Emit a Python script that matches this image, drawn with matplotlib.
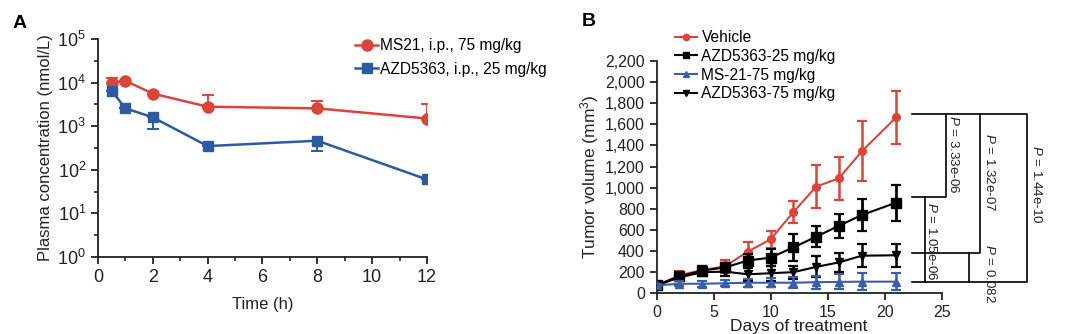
import matplotlib
matplotlib.use("Agg")
import matplotlib.pyplot as plt
import matplotlib.ticker as mticker
from matplotlib.lines import Line2D
import numpy as np

plt.rcParams["font.family"] = ["Liberation Sans", "DejaVu Sans"]
plt.rcParams["mathtext.fontset"] = "custom"
plt.rcParams["mathtext.rm"] = "Liberation Sans"
plt.rcParams["mathtext.it"] = "Liberation Sans:italic"

# =========================
# DATA - panel A (pharmacokinetics)
# =========================
pk_time = [0.5, 1, 2, 4, 8, 12]
ms21_conc = [10000, 11000, 5600, 2800, 2570, 1500]
ms21_err_up = [2600, 0, 0, 2400, 1200, 1670]
azd_conc = [6500, 2570, 1600, 350, 465, 60]
azd_err_down = [0, 0, 730, 0, 190, 0]
pk_labels = ["MS21, i.p., 75 mg/kg", "AZD5363, i.p., 25 mg/kg"]

# =========================
# DATA - panel B (tumor volume)
# =========================
days = [0, 2, 4, 6, 8, 10, 12, 14, 16, 18, 21]
vehicle = [75, 170, 220, 255, 395, 511, 770, 1010, 1090, 1345, 1665]
vehicle_err = [15, 40, 40, 60, 95, 83, 105, 205, 205, 285, 255]
azd25 = [75, 160, 215, 245, 310, 338, 435, 536, 640, 741, 858]
azd25_err = [15, 35, 40, 40, 60, 80, 125, 100, 115, 150, 170]
ms21_75 = [75, 90, 90, 95, 100, 100, 100, 105, 108, 110, 110]
ms21_75_err = [10, 25, 30, 30, 40, 45, 50, 60, 70, 80, 80]
azd75 = [75, 150, 200, 205, 180, 190, 200, 250, 293, 356, 360]
azd75_err = [15, 35, 40, 45, 60, 70, 60, 100, 90, 110, 110]
tv_labels = ["Vehicle", "AZD5363-25 mg/kg", "MS-21-75 mg/kg", "AZD5363-75 mg/kg"]

# significance brackets: (x, y) corner lists in data units
brackets = [
    [(22.4, 1700), (25.4, 1700), (25.4, 910), (22.4, 910)],
    [(25.4, 1700), (28.4, 1700), (28.4, 378), (22.4, 378)],
    [(28.4, 1700), (32.5, 1700), (32.5, 110), (22.4, 110)],
    [(23.5, 910), (23.5, 110)],
    [(27.4, 378), (27.4, 110)],
]
p_texts = ["3.33e-06", "1.32e-07", "1.44e-10", "1.05e-06", "0.082"]
p_pos = [(26.0, 1320), (29.2, 1148), (33.3, 1034), (24.1, 489), (29.2, 192)]

RED = "#d9453a"
BLUE_A = "#2d5aa0"
BLUE_B = "#3c5ea8"
INK = "#222222"


def style_axes(ax, size):
    for side in ["top", "right"]:
        ax.spines[side].set_visible(False)
    for side in ["left", "bottom"]:
        ax.spines[side].set_color(INK)
        ax.spines[side].set_linewidth(1.3)
    ax.tick_params(which="major", direction="out", length=5, width=1.3,
                   color=INK, labelcolor=INK, labelsize=size)
    ax.tick_params(which="minor", direction="out", length=3, width=1.2,
                   color=INK)


fig = plt.figure(figsize=(10.8, 3.34), dpi=100)

# =========================
# PANEL A
# =========================
axA = fig.add_axes([0.0907, 0.2305, 0.3047, 0.6527])
axA.errorbar(pk_time, ms21_conc, yerr=[np.zeros(len(pk_time)), ms21_err_up],
             color=RED, marker="o", ms=8, lw=1.8, capsize=4, elinewidth=1.4,
             capthick=1.4, zorder=3)
axA.errorbar(pk_time, azd_conc, yerr=[azd_err_down, np.zeros(len(pk_time))],
             color=BLUE_A, marker="s", ms=7.5, lw=1.8, capsize=4, elinewidth=1.4,
             capthick=1.4, zorder=3)
axA.set_yscale("log")
axA.set_ylim(1, 1e5)
axA.set_xlim(0, 12)
axA.yaxis.set_major_locator(mticker.FixedLocator([10.0 ** k for k in range(6)]))
axA.yaxis.set_minor_locator(mticker.FixedLocator([10.0 ** (k + 0.5) for k in range(5)]))
axA.yaxis.set_minor_formatter(mticker.NullFormatter())
axA.xaxis.set_major_locator(mticker.MultipleLocator(2))
axA.xaxis.set_minor_locator(mticker.MultipleLocator(1))
style_axes(axA, 13)
axA.set_xlabel("Time (h)", fontsize=12, color=INK, labelpad=8)
axA.set_ylabel("Plasma concentration (nmol/L)", fontsize=12, color=INK, labelpad=3)

handles_a = [
    Line2D([], [], color=RED, marker="o", ms=8, lw=1.8),
    Line2D([], [], color=BLUE_A, marker="s", ms=7.5, lw=1.8),
]
fig.legend(handles_a, pk_labels, loc="upper left",
           bbox_to_anchor=(0.3287, 0.886), bbox_transform=fig.transFigure,
           frameon=False, fontsize=11.2, handlelength=1.5, handletextpad=0.1,
           labelspacing=0.55, borderpad=0, borderaxespad=0)

# =========================
# PANEL B
# =========================
axB = fig.add_axes([0.608, 0.1219, 0.2639, 0.6955])
axB.errorbar(days, vehicle, yerr=vehicle_err, color=RED, marker="o", ms=5.5,
             lw=1.5, capsize=3.5, elinewidth=1.8, capthick=1.6, zorder=2)
axB.errorbar(days, azd25, yerr=azd25_err, color="black", marker="s", ms=7,
             lw=1.5, capsize=3.5, elinewidth=2.0, capthick=1.6, zorder=3)
axB.errorbar(days, ms21_75, yerr=ms21_75_err, color=BLUE_B, marker="^", ms=6,
             lw=1.5, capsize=3.5, elinewidth=1.8, capthick=1.6, zorder=4)
axB.errorbar(days, azd75, yerr=azd75_err, color="black", marker="v", ms=6,
             lw=1.5, capsize=3.5, elinewidth=1.8, capthick=1.6, zorder=3)
axB.set_xlim(0, 25)
axB.set_ylim(0, 2200)
axB.xaxis.set_major_locator(mticker.MultipleLocator(5))
axB.yaxis.set_major_locator(mticker.MultipleLocator(200))
axB.yaxis.set_major_formatter(mticker.FuncFormatter(lambda v, p: f"{int(v):,}"))
style_axes(axB, 11.5)
axB.set_xlabel("Days of treatment", fontsize=12.5, color=INK, va="bottom")
axB.xaxis.set_label_coords(0.5, -0.175)
axB.set_ylabel("Tumor volume (mm$^3$)", fontsize=12.5, color=INK, labelpad=3)

for pts in brackets:
    xs = [p[0] for p in pts]
    ys = [p[1] for p in pts]
    axB.plot(xs, ys, color="black", lw=1.2, clip_on=False, zorder=1)
for txt, (x, y) in zip(p_texts, p_pos):
    axB.text(x, y, "$P$ = " + txt, rotation=-90, ha="center", va="center",
             fontsize=9.6, color=INK, clip_on=False)

handles_b = [
    Line2D([], [], color=RED, marker="o", ms=4.5, lw=1.5),
    Line2D([], [], color="black", marker="s", ms=5, lw=1.5),
    Line2D([], [], color=BLUE_B, marker="^", ms=5, lw=1.5),
    Line2D([], [], color="black", marker="v", ms=5, lw=1.5),
]
fig.legend(handles_b, tv_labels, loc="upper left",
           bbox_to_anchor=(0.625, 0.91), bbox_transform=fig.transFigure,
           frameon=False, fontsize=11.2, handlelength=1.4, handletextpad=0.3,
           labelspacing=0.24, borderpad=0, borderaxespad=0)

# panel letters
fig.text(0.012, 0.955, "A", fontsize=14, fontweight="bold", va="top")
fig.text(0.539, 0.96, "B", fontsize=14, fontweight="bold", va="top")

fig.savefig("out.png", dpi=100)
